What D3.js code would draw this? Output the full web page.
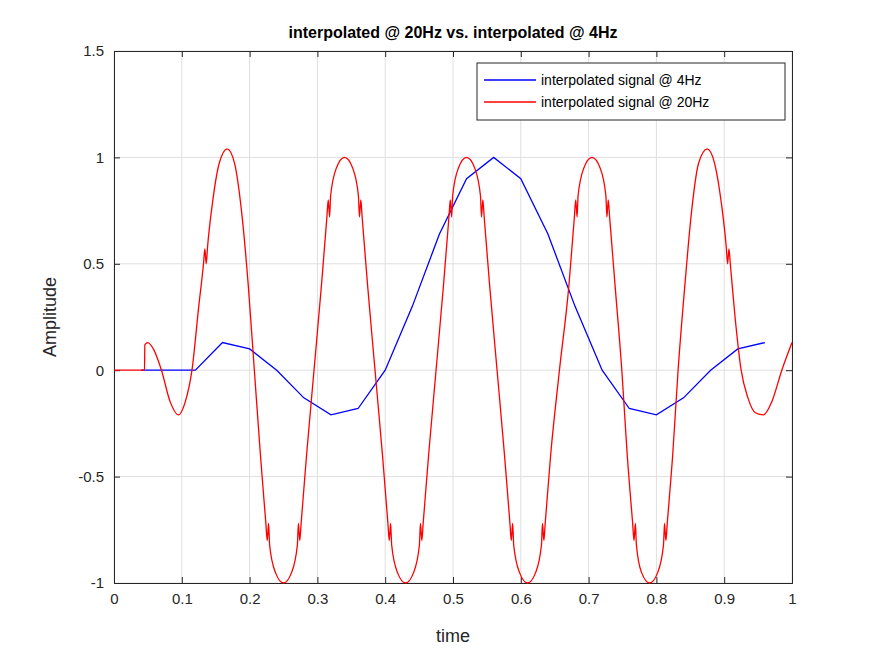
<!DOCTYPE html>
<html><head><meta charset="utf-8">
<script src="https://cdn.jsdelivr.net/npm/d3@7"></script>
<style>body{margin:0;background:#fff}svg{font-family:Arial,"Liberation Sans",sans-serif}</style>
</head><body><svg id="c" width="875" height="656"></svg>
<script>
const xTicks=[0,0.1,0.2,0.3,0.4,0.5,0.6,0.7,0.8,0.9,1];
const yTicks=[-1,-0.5,0,0.5,1,1.5];
const blueT=[0.04,0.12,0.16,0.2,0.24,0.28,0.32,0.36,0.4,0.44,0.48,0.52,0.56,0.6,0.64,0.68,0.72,0.76,0.8,0.84,0.88,0.92,0.96];
const blueV=[0,0,0.13,0.1,0,-0.13,-0.21,-0.18,0,0.3,0.64,0.9,1,0.9,0.64,0.3,0,-0.18,-0.21,-0.13,0,0.1,0.13];
const red=[[0,0],[0.045,0],[0.0455,0.12],[0.05,0.13],[0.058,0.1],[0.07,0],[0.083,-0.15],[0.095,-0.21],[0.105,-0.15],[0.115,0],[0.125,0.3],[0.132,0.5],[0.134,0.57],[0.136,0.5],[0.138,0.58],[0.145,0.78],[0.155,0.97],[0.167,1.04],[0.178,0.97],[0.188,0.75],[0.198,0.4],[0.207,0],
[0.216,-0.4],[0.224,-0.72],[0.226,-0.8],[0.228,-0.72],[0.2295,-0.82],[0.238,-0.95],[0.25,-1],[0.262,-0.95],[0.2705,-0.82],[0.272,-0.72],[0.274,-0.8],[0.276,-0.72],[0.284,-0.4],[0.295,0],
[0.306,0.4],[0.314,0.72],[0.316,0.8],[0.318,0.72],[0.3195,0.82],[0.328,0.95],[0.34,1],[0.352,0.95],[0.3605,0.82],[0.362,0.72],[0.364,0.8],[0.366,0.72],[0.374,0.4],[0.385,0],
[0.396,-0.4],[0.404,-0.72],[0.406,-0.8],[0.408,-0.72],[0.4095,-0.82],[0.418,-0.95],[0.43,-1],[0.442,-0.95],[0.4505,-0.82],[0.452,-0.72],[0.454,-0.8],[0.456,-0.72],[0.464,-0.4],[0.475,0],
[0.486,0.4],[0.494,0.72],[0.496,0.8],[0.498,0.72],[0.4995,0.82],[0.508,0.95],[0.52,1],[0.532,0.95],[0.5405,0.82],[0.542,0.72],[0.544,0.8],[0.546,0.72],[0.554,0.4],[0.565,0],
[0.576,-0.4],[0.584,-0.72],[0.586,-0.8],[0.588,-0.72],[0.5895,-0.82],[0.598,-0.95],[0.61,-1],[0.622,-0.95],[0.6305,-0.82],[0.632,-0.72],[0.634,-0.8],[0.636,-0.72],[0.644,-0.4],[0.657,0],
[0.671,0.4],[0.679,0.72],[0.681,0.8],[0.683,0.72],[0.6845,0.82],[0.693,0.95],[0.705,1],[0.717,0.95],[0.7255,0.82],[0.727,0.72],[0.729,0.8],[0.731,0.72],[0.739,0.4],[0.749,0],
[0.757,-0.4],[0.765,-0.72],[0.767,-0.8],[0.769,-0.72],[0.7705,-0.82],[0.778,-0.95],[0.79,-1],[0.802,-0.95],[0.8105,-0.82],[0.812,-0.72],[0.814,-0.8],[0.816,-0.72],[0.824,-0.4],[0.832,0],
[0.842,0.4],[0.852,0.75],[0.862,0.97],[0.875,1.04],[0.886,0.97],[0.896,0.78],[0.903,0.58],[0.905,0.5],[0.907,0.57],[0.909,0.5],[0.916,0.25],[0.925,0],[0.935,-0.13],[0.946,-0.2],[0.958,-0.21],[0.97,-0.15],[0.985,0],[1,0.13]];
const legendLabels=["interpolated signal @ 4Hz","interpolated signal @ 20Hz"];
const colors=["#0000ff","#ff0000"];

const svg=d3.select("#c");
const L=114,R=792,T=51,B=583;
const x=d3.scaleLinear().domain([0,1]).range([L,R]);
const y=d3.scaleLinear().domain([-1,1.5]).range([B,T]);
const g=svg.append("g");
g.selectAll(".gx").data(xTicks).join("line").attr("x1",d=>x(d)).attr("x2",d=>x(d)).attr("y1",T).attr("y2",B).attr("stroke","#dfdfdf");
g.selectAll(".gy").data(yTicks).join("line").attr("y1",d=>y(d)).attr("y2",d=>y(d)).attr("x1",L).attr("x2",R).attr("stroke","#dfdfdf");
const fmt=d=>String(d);
svg.append("g").attr("transform",`translate(0,${B})`).call(d3.axisBottom(x).tickValues(xTicks).tickFormat(fmt).tickSize(-6).tickPadding(10));
svg.append("g").attr("transform",`translate(${L},0)`).call(d3.axisLeft(y).tickValues(yTicks).tickFormat(fmt).tickSize(-6).tickPadding(10));
svg.append("g").attr("transform",`translate(0,${T})`).call(d3.axisTop(x).tickValues(xTicks).tickFormat("").tickSize(-6));
svg.append("g").attr("transform",`translate(${R},0)`).call(d3.axisRight(y).tickValues(yTicks).tickFormat("").tickSize(-6));
svg.selectAll(".domain").attr("stroke","#262626");
svg.selectAll(".tick line").attr("stroke","#262626");
svg.selectAll(".tick text").attr("font-size",15).attr("fill","#262626");
const line=d3.line().x(d=>x(d[0])).y(d=>y(d[1]));
svg.append("path").datum(blueT.map((t,i)=>[t,blueV[i]])).attr("d",line).attr("fill","none").attr("stroke",colors[0]).attr("stroke-width",1.3);
svg.append("path").datum(red).attr("d",line.curve(d3.curveMonotoneX)).attr("fill","none").attr("stroke",colors[1]).attr("stroke-width",1.3);
svg.append("text").attr("x",(L+R)/2).attr("y",38).attr("text-anchor","middle").attr("font-size",16).attr("font-weight","bold").text("interpolated @ 20Hz vs. interpolated @ 4Hz");
svg.append("text").attr("x",(L+R)/2).attr("y",642).attr("text-anchor","middle").attr("font-size",18).attr("fill","#262626").text("time");
svg.append("text").attr("transform",`translate(56,${(T+B)/2}) rotate(-90)`).attr("text-anchor","middle").attr("font-size",18).attr("fill","#262626").text("Amplitude");
const lg=svg.append("g");
lg.append("rect").attr("x",477).attr("y",63).attr("width",308).attr("height",57).attr("fill","#fff").attr("stroke","#262626");
legendLabels.forEach((s,i)=>{
  const yy=80+i*22;
  lg.append("line").attr("x1",484).attr("x2",536).attr("y1",yy).attr("y2",yy).attr("stroke",colors[i]).attr("stroke-width",1.3);
  lg.append("text").attr("x",541).attr("y",yy+5).attr("font-size",14).attr("fill","#000").text(s);
});
</script></body></html>
